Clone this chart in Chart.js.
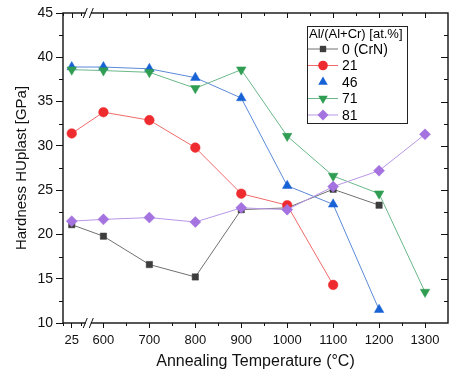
<!DOCTYPE html>
<html>
<head>
<meta charset="utf-8">
<script src="https://cdn.jsdelivr.net/npm/chart.js@4"></script>
<style>
  html, body { margin: 0; padding: 0; background: #fff; }
  #wrap { width: 474px; height: 380px; }
</style>
</head>
<body>
<div id="wrap"><canvas id="myChart" width="474" height="380"></canvas></div>
<script>
// annealing temperatures (25 = as deposited, shown before the axis break)
const temps = [25, 600, 700, 800, 900, 1000, 1100, 1200, 1300];
const crN  = [21.1, 19.8, 16.6, 15.2, 22.8, 23.0, 25.1, 23.3, null];
const al21 = [31.4, 33.8, 32.9, 29.8, 24.6, 23.3, 14.3, null, null];
const al46 = [38.9, 38.9, 38.7, 37.7, 35.4, 25.5, 23.4, 11.5, null];
const al71 = [38.6, 38.5, 38.3, 36.5, 38.6, 31.1, 26.6, 24.6, 13.5];
const al81 = [21.5, 21.7, 21.9, 21.4, 23.0, 22.8, 25.4, 27.2, 31.3];
const seriesNames = ['0 (CrN)', '21', '46', '71', '81'];
const xTickLabels = ['25', '600', '700', '800', '900', '1000', '1100', '1200', '1300'];

// broken axis: 25 °C is placed just left of the break
const POS_25 = 531;
const BREAK_AT = 567;
const xPos = t => (t === 25 ? POS_25 : t);

const FONT = '"Liberation Sans", Arial, sans-serif';

function pts(vals) {
  const out = [];
  temps.forEach((t, i) => { if (vals[i] !== null) out.push({ x: xPos(t), y: vals[i] }); });
  return out;
}

const styles = [
  { marker: '#3d3d3d', line: '#707070', shape: 'rect', r: 4.5 },
  { marker: '#ee2b2e', line: '#f06a6a', shape: 'circle', r: 4.8 },
  { marker: '#1763d6', line: '#5a8ad8', shape: 'triangle', r: 5.5 },
  { marker: '#2f9d52', line: '#6ab88a', shape: 'triangle', r: 5.5, rot: 180 },
  { marker: '#a473e0', line: '#b896e6', shape: 'rectRot', r: 5.5 }
];
const allVals = [crN, al21, al46, al71, al81];

const datasets = allVals.map((v, i) => ({
  label: seriesNames[i],
  data: pts(v),
  borderColor: styles[i].line,
  borderWidth: 1,
  backgroundColor: styles[i].marker,
  pointBackgroundColor: styles[i].marker,
  pointBorderColor: styles[i].marker,
  pointBorderWidth: 0.5,
  pointStyle: styles[i].shape,
  pointRotation: styles[i].rot || 0,
  pointRadius: styles[i].r,
  tension: 0,
  order: 5 - i
}));

const decor = {
  id: 'decor',
  afterDraw(chart) {
    const { ctx, chartArea: a, scales: { x, y } } = chart;
    ctx.save();
    ctx.strokeStyle = '#111';
    ctx.lineWidth = 1.4;
    // frame
    ctx.strokeRect(a.left, a.top, a.right - a.left, a.bottom - a.top);

    ctx.lineWidth = 1;
    // minor ticks x (outward bottom, inward top)
    const xMinor = [POS_25 - 20, POS_25 + 20];
    for (let v = 650; v <= 1350; v += 100) xMinor.push(v);
    const xMajor = [POS_25];
    for (let v = 600; v <= 1300; v += 100) xMajor.push(v);
    ctx.beginPath();
    xMinor.forEach(v => {
      const px = Math.round(x.getPixelForValue(v)) + 0.5;
      if (px > a.right - 1) return;
      ctx.moveTo(px, a.bottom); ctx.lineTo(px, a.bottom + 3);
      ctx.moveTo(px, a.top); ctx.lineTo(px, a.top + 3);
    });
    xMajor.forEach(v => {
      const px = Math.round(x.getPixelForValue(v)) + 0.5;
      ctx.moveTo(px, a.top); ctx.lineTo(px, a.top + 5);
    });
    // y minor ticks + right side ticks
    for (let v = 12.5; v < 45; v += 5) {
      const py = Math.round(y.getPixelForValue(v)) + 0.5;
      ctx.moveTo(a.left, py); ctx.lineTo(a.left - 4, py);
      ctx.moveTo(a.right, py); ctx.lineTo(a.right - 4, py);
    }
    for (let v = 15; v < 45; v += 5) {
      const py = Math.round(y.getPixelForValue(v)) + 0.5;
      ctx.moveTo(a.right, py); ctx.lineTo(a.right - 7, py);
    }
    ctx.stroke();

    // axis break on top and bottom
    const bx = x.getPixelForValue(BREAK_AT);
    [a.top, a.bottom].forEach(yy => {
      ctx.fillStyle = '#fff';
      ctx.fillRect(bx - 2.5, yy - 2, 5, 4);
      ctx.beginPath();
      ctx.moveTo(bx - 5, yy + 5); ctx.lineTo(bx - 1, yy - 5);
      ctx.moveTo(bx + 1, yy + 5); ctx.lineTo(bx + 5, yy - 5);
      ctx.stroke();
    });

    // legend
    const L = { x: 307, y: 26, w: 100, h: 97 };
    ctx.fillStyle = '#fff';
    ctx.fillRect(L.x, L.y, L.w, L.h);
    ctx.strokeStyle = '#222';
    ctx.lineWidth = 1;
    ctx.strokeRect(L.x + 0.5, L.y + 0.5, L.w, L.h);
    ctx.fillStyle = '#000';
    ctx.font = '13px ' + FONT;
    ctx.textBaseline = 'middle';
    ctx.textAlign = 'left';
    ctx.fillText('Al/(Al+Cr) [at.%]', L.x + 2, L.y + 8);
    ctx.font = '14px ' + FONT;
    const rows = [49, 65.5, 82, 98.5, 115];
    rows.forEach((ry, i) => {
      const s = styles[i];
      if (i !== 2) {
        ctx.strokeStyle = s.line;
        ctx.lineWidth = 1;
        ctx.beginPath();
        ctx.moveTo(L.x + 1, ry); ctx.lineTo(L.x + 31, ry);
        ctx.stroke();
      }
      ctx.fillStyle = s.marker;
      Chart.helpers.drawPoint(ctx, {
        pointStyle: s.shape, radius: s.r, rotation: s.rot || 0, borderWidth: 0
      }, L.x + 16, ry);
      ctx.fillStyle = '#000';
      ctx.fillText(seriesNames[i], L.x + 35, ry + 1);
    });
    ctx.restore();
  }
};

const config = {
  type: 'line',
  data: { datasets },
  options: {
    responsive: false,
    animation: false,
    layout: { padding: { left: 0, top: 13, right: 26, bottom: 0 } },
    plugins: {
      legend: { display: false },
      tooltip: { enabled: false }
    },
    scales: {
      x: {
        type: 'linear',
        min: 512,
        max: 1350,
        afterBuildTicks: s => {
          s.ticks = temps.map(t => ({ value: xPos(t) }));
        },
        afterFit: s => { s.height = 57; },
        ticks: {
          autoSkip: false,
          maxRotation: 0,
          padding: 5,
          color: '#111',
          font: { family: FONT, size: 13 },
          callback: (v) => xTickLabels[temps.map(xPos).indexOf(v)]
        },
        grid: { drawOnChartArea: false, drawTicks: true, tickLength: 5, color: '#111', tickWidth: 1 },
        border: { display: false },
        title: {
          display: true,
          text: 'Annealing Temperature (\u00B0C)',
          color: '#111',
          font: { family: FONT, size: 16 },
          padding: { top: 0, bottom: 9 }
        }
      },
      y: {
        min: 10,
        max: 45,
        afterFit: s => { s.width = 63; },
        ticks: {
          stepSize: 5,
          padding: 3,
          color: '#111',
          font: { family: FONT, size: 14 }
        },
        grid: { drawOnChartArea: false, drawTicks: true, tickLength: 7, color: '#111', tickWidth: 1 },
        border: { display: false },
        title: {
          display: true,
          text: 'Hardness HUplast [GPa]',
          color: '#111',
          font: { family: FONT, size: 15 },
          padding: { top: 13, bottom: 0 }
        }
      }
    }
  },
  plugins: [decor]
};

var ctx = document.getElementById('myChart').getContext('2d');
var chart = new Chart(ctx, config);
</script>
</body>
</html>
